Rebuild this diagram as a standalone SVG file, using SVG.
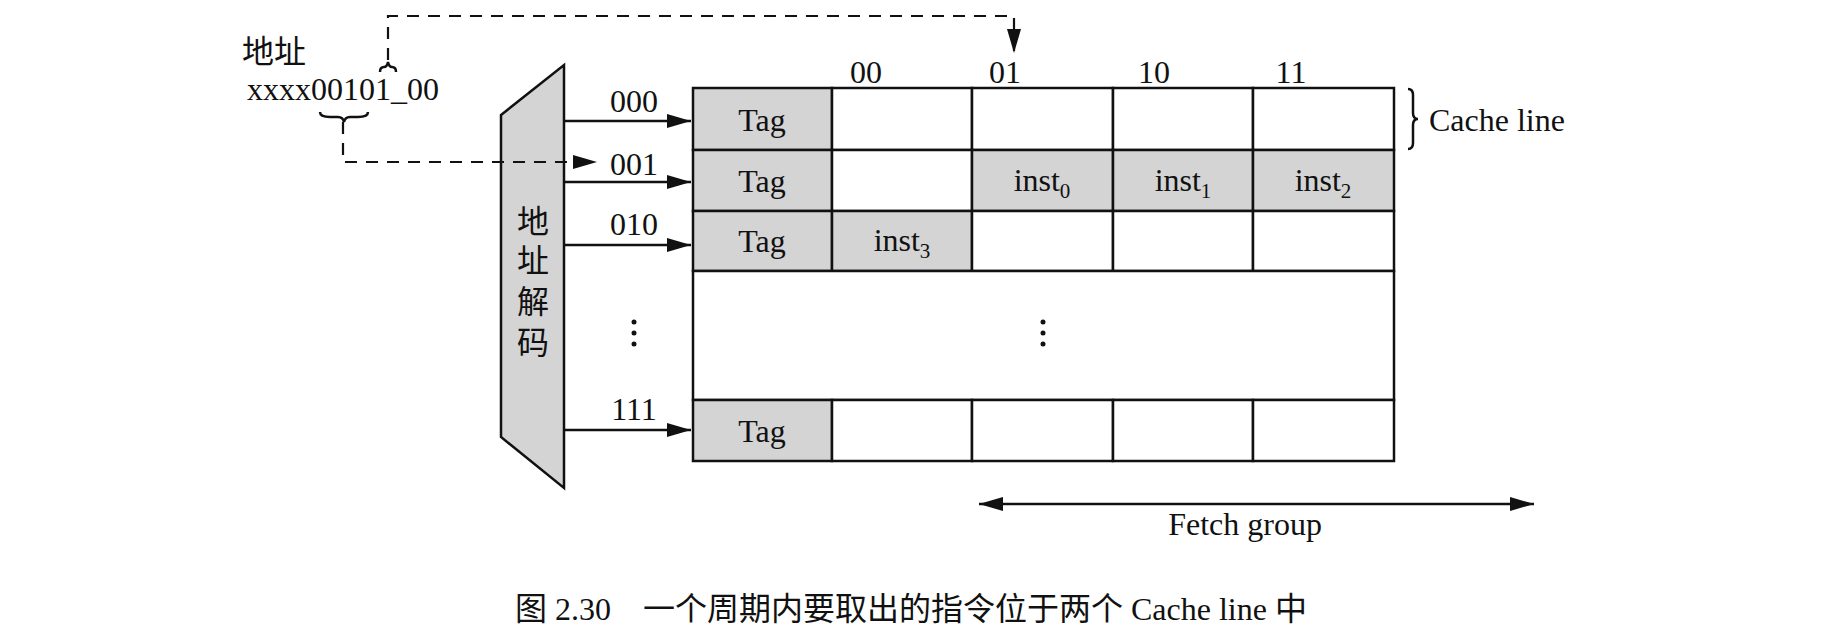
<svg xmlns="http://www.w3.org/2000/svg" width="1828" height="638" viewBox="0 0 1828 638">
<defs>
<marker id="ah2" viewBox="0 0 10 10" refX="10" refY="5" markerWidth="24" markerHeight="14" markerUnits="userSpaceOnUse" orient="auto-start-reverse" preserveAspectRatio="none"><path d="M0,0 L10,5 L0,10 z" fill="#111"/></marker>
</defs>
<style>
text{font-family:"Liberation Serif","Noto Sans CJK SC",serif;fill:#111;font-size:32px}
.g{fill:#d4d4d4;stroke:#111;stroke-width:2.5}
.w{fill:#fff;stroke:#111;stroke-width:2.5}
.c{text-anchor:middle}
.ln{stroke:#111;stroke-width:2.5;fill:none}
.d{stroke:#111;stroke-width:2.2;fill:none;stroke-dasharray:12 9}
</style>
<rect width="1828" height="638" fill="#fff"/>
<g id="address">
<text x="242" y="63">地址</text>
<text x="247" y="100" font-size="34">xxxx00101_00</text>
<path class="ln" stroke-width="1.8" d="M320,112 q0,5 10,5 h8 q5,0 6,5 q1,-5 6,-5 h8 q10,0 10,-5"/>
<path class="ln" stroke-width="1.8" d="M380,72 q0,-5 4,-5 q3,0 4,-5 q1,5 4,5 q4,0 4,5"/>
</g>
<g id="decoder">
<path class="g" d="M501,115 L564,65 L564,488 L501,437 Z"/>
<text class="c" x="533" y="233">地</text>
<text class="c" x="533" y="272">址</text>
<text class="c" x="533" y="313">解</text>
<text class="c" x="533" y="354">码</text>
</g>
<g id="cache">
<rect class="g" x="693" y="88" width="139" height="62"/>
<rect class="w" x="832" y="88" width="140" height="62"/>
<rect class="w" x="972" y="88" width="141" height="62"/>
<rect class="w" x="1113" y="88" width="140" height="62"/>
<rect class="w" x="1253" y="88" width="141" height="62"/>
<rect class="g" x="693" y="150" width="139" height="61"/>
<rect class="w" x="832" y="150" width="140" height="61"/>
<rect class="g" x="972" y="150" width="141" height="61"/>
<rect class="g" x="1113" y="150" width="140" height="61"/>
<rect class="g" x="1253" y="150" width="141" height="61"/>
<rect class="g" x="693" y="211" width="139" height="60"/>
<rect class="g" x="832" y="211" width="140" height="60"/>
<rect class="w" x="972" y="211" width="141" height="60"/>
<rect class="w" x="1113" y="211" width="140" height="60"/>
<rect class="w" x="1253" y="211" width="141" height="60"/>
<rect class="w" x="693" y="271" width="701" height="129"/>
<rect class="g" x="693" y="400" width="139" height="61"/>
<rect class="w" x="832" y="400" width="140" height="61"/>
<rect class="w" x="972" y="400" width="141" height="61"/>
<rect class="w" x="1113" y="400" width="140" height="61"/>
<rect class="w" x="1253" y="400" width="141" height="61"/>
<text class="c" x="762" y="131" font-size="34">Tag</text>
<text class="c" x="762" y="192" font-size="34">Tag</text>
<text class="c" x="762" y="252" font-size="34">Tag</text>
<text class="c" x="762" y="442" font-size="34">Tag</text>
<text class="c" x="1042" y="191">inst<tspan font-size="21" dy="7">0</tspan></text>
<text class="c" x="1183" y="191">inst<tspan font-size="21" dy="7">1</tspan></text>
<text class="c" x="1323" y="191">inst<tspan font-size="21" dy="7">2</tspan></text>
<text class="c" x="902" y="251">inst<tspan font-size="21" dy="7">3</tspan></text>
<text class="c" x="866" y="83">00</text>
<text class="c" x="1005" y="83">01</text>
<text class="c" x="1154" y="83">10</text>
<text class="c" x="1291" y="83">11</text>
<g fill="#111"><circle cx="1043" cy="322" r="2.5"/><circle cx="1043" cy="333" r="2.5"/><circle cx="1043" cy="344" r="2.5"/></g>
</g>
<g id="cacheline">
<path class="ln" stroke-width="1.8" d="M1408,89 q5,0 5,6 v18 q0,6 5,6 q-5,0 -5,6 v18 q0,6 -5,6"/>
<text x="1429" y="131">Cache line</text>
</g>
<g id="connectors">
<line class="ln" x1="564" y1="121" x2="691" y2="121" marker-end="url(#ah2)"/>
<line class="ln" x1="564" y1="182" x2="691" y2="182" marker-end="url(#ah2)"/>
<line class="ln" x1="564" y1="245" x2="691" y2="245" marker-end="url(#ah2)"/>
<line class="ln" x1="564" y1="430" x2="691" y2="430" marker-end="url(#ah2)"/>
<path class="d" d="M343,122 V162 H597" marker-end="url(#ah2)"/>
<path class="d" d="M388,60 V16 H1014 V53" marker-end="url(#ah2)"/>
<line class="ln" x1="979" y1="504" x2="1534" y2="504" marker-start="url(#ah2)" marker-end="url(#ah2)"/>
</g>
<g id="labels">
<text class="c" x="634" y="112" font-size="33">000</text>
<text class="c" x="634" y="175" font-size="33">001</text>
<text class="c" x="634" y="235" font-size="33">010</text>
<text class="c" x="634" y="420" font-size="33">111</text>
<g fill="#111"><circle cx="634" cy="322" r="2.5"/><circle cx="634" cy="333" r="2.5"/><circle cx="634" cy="344" r="2.5"/></g>
<text class="c" x="1245" y="535">Fetch group</text>
<text class="c" x="911" y="620">图 2.30　一个周期内要取出的指令位于两个 Cache line 中</text>
</g>
</svg>
